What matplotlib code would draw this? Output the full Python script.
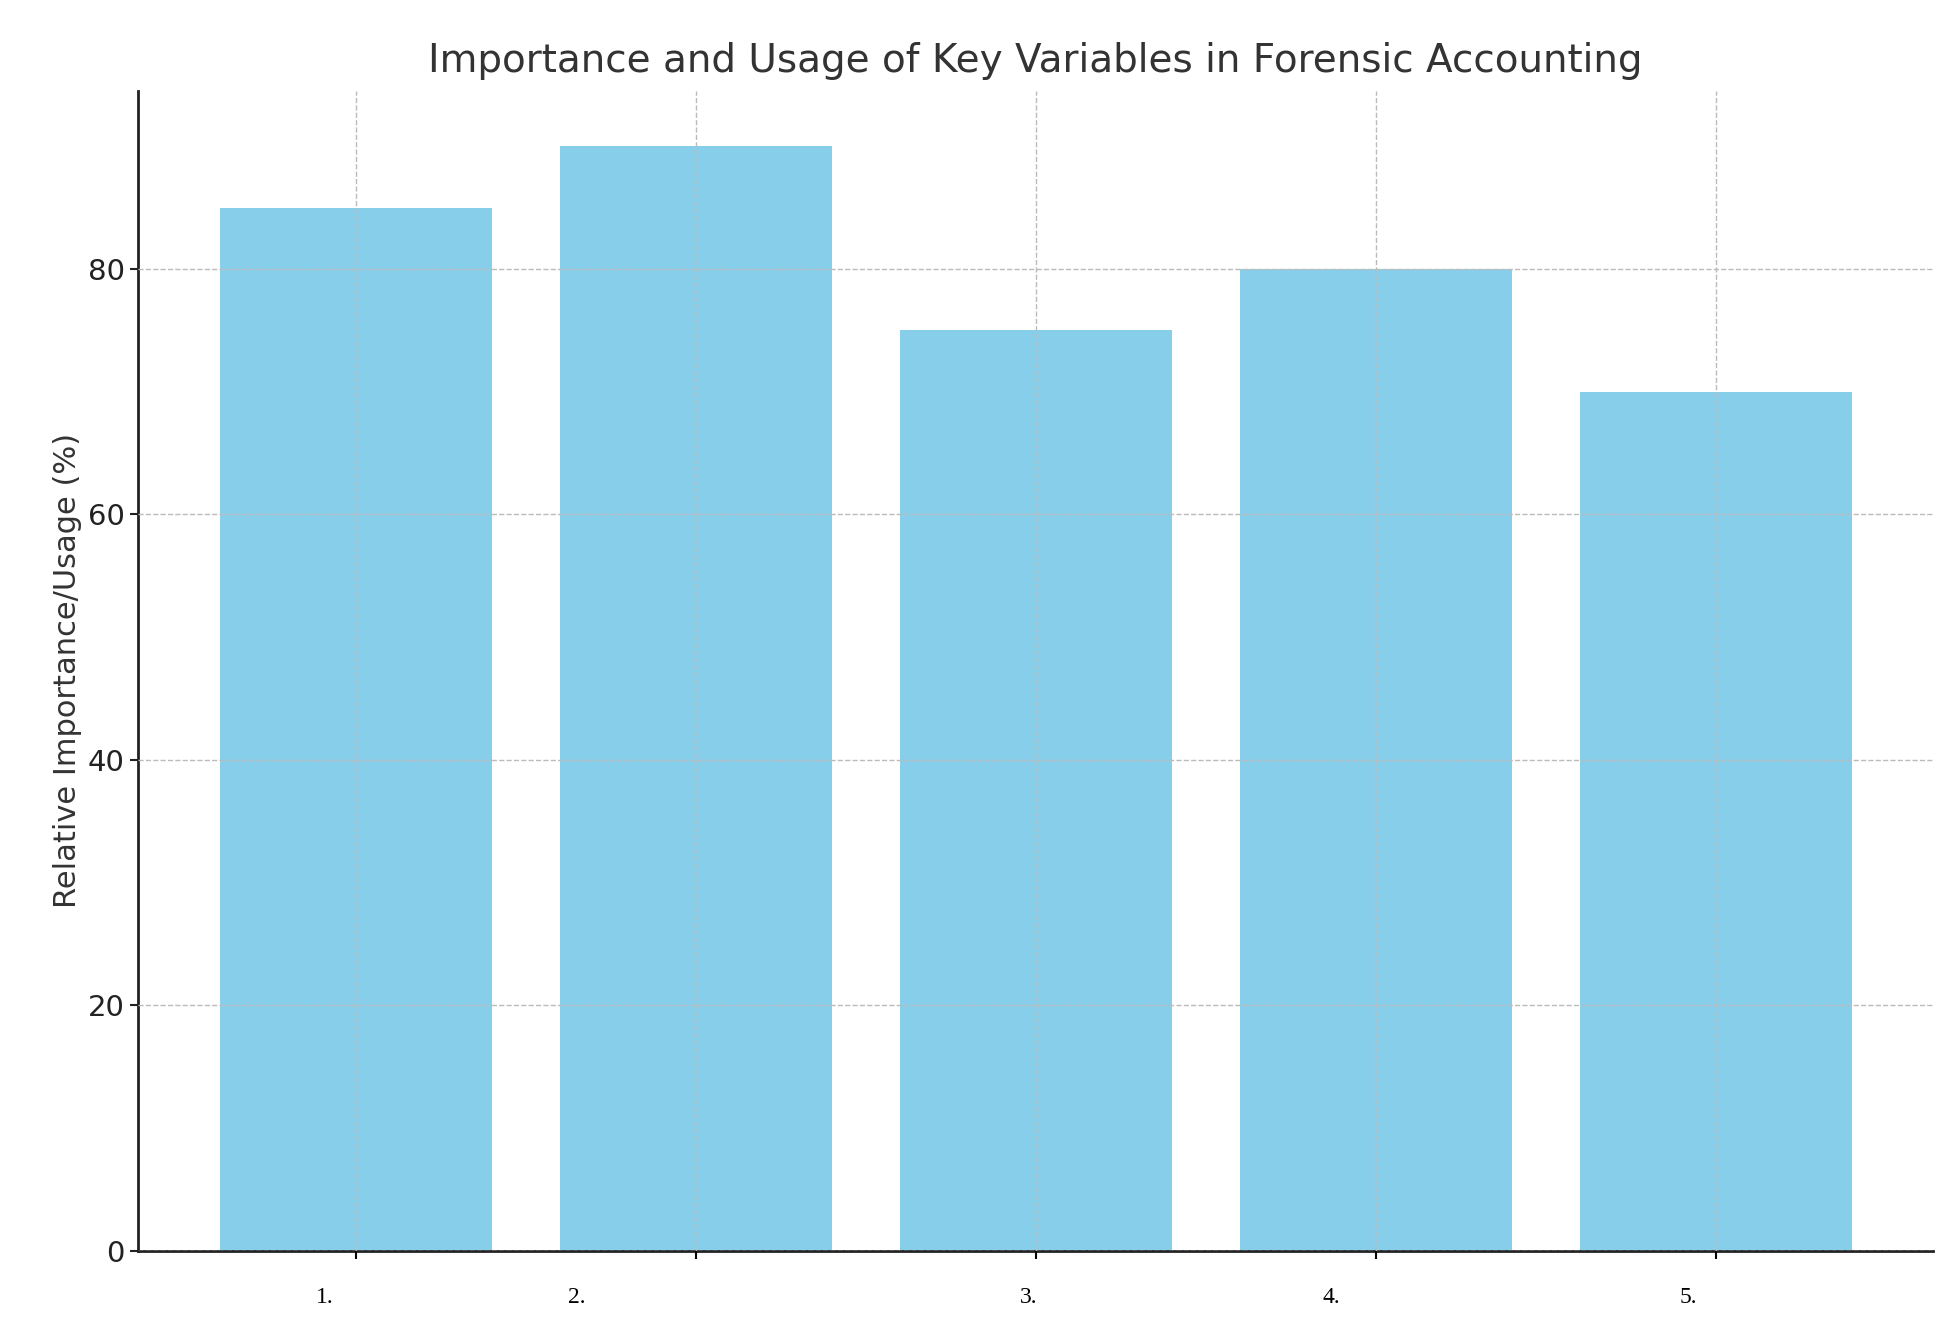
import matplotlib
matplotlib.use("Agg")
import matplotlib.pyplot as plt

categories = ["1.", "2.", "3.", "4.", "5."]
values = [85, 90, 75, 80, 70]
label_offsets = [-0.09, -0.35, -0.02, -0.13, -0.08]

fig = plt.figure(figsize=(19.45, 13.22), dpi=100)
ax = fig.add_axes([0.071, 0.054, 0.923, 0.877])
x = list(range(len(categories)))
ax.bar(x, values, width=0.8, color="skyblue", zorder=1)
ax.grid(True, linestyle="--", color="#bbbbbb", linewidth=1, zorder=2)
ax.set_axisbelow(False)
ax.set_xlim(-0.64, 4.64)
ax.set_ylim(0, 94.5)
ax.set_yticks([0, 20, 40, 60, 80])
ax.set_xticks(x)
ax.set_xticklabels([""] * len(x))
for xi, lab, off in zip(x, categories, label_offsets):
    ax.text(xi + off, -3, lab, ha="center", va="top", fontsize=17,
            family="Liberation Serif", transform=ax.transData)
ax.tick_params(axis="y", labelsize=21, length=6, width=1.5, colors="#222222")
ax.tick_params(axis="x", length=6, width=1.5)
for s in ["top", "right"]:
    ax.spines[s].set_visible(False)
for s in ["left", "bottom"]:
    ax.spines[s].set_linewidth(2)
    ax.spines[s].set_color("#222222")
ax.set_ylabel("Relative Importance/Usage (%)", fontsize=22, color="#333333")
ax.set_title("Importance and Usage of Key Variables in Forensic Accounting",
             fontsize=28, color="#333333", pad=14)
fig.savefig("out.png", dpi=100)
